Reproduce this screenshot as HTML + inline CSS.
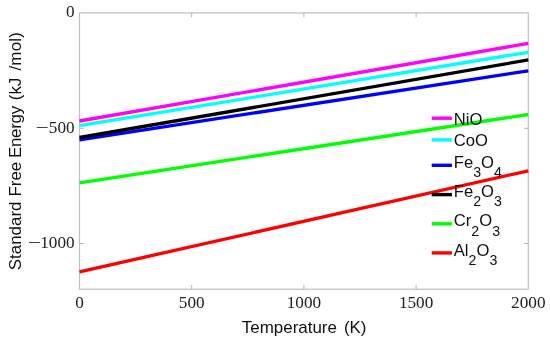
<!DOCTYPE html>
<html>
<head>
<meta charset="utf-8">
<title>Standard Free Energy vs Temperature</title>
<style>
html,body{margin:0;padding:0;background:#fff;}
svg{display:block;}
.sans{font-family:"Liberation Sans",Arial,Helvetica,sans-serif;fill:#111;}
.serif{font-family:"Liberation Serif","Times New Roman",serif;fill:#222;}
</style>
</head>
<body>
<svg width="550" height="341" viewBox="0 0 550 341">
<rect x="0" y="0" width="550" height="341" fill="#ffffff"/>
<!-- axes box -->
<rect x="79.5" y="12.9" width="448.8" height="276.3" fill="none" stroke="#c0c0c0" stroke-width="1.2"/>
<!-- ticks -->
<g stroke="#b4b4b4" stroke-width="1" fill="none">
<path d="M191.7 289.2v-4.3M303.9 289.2v-4.3M416.1 289.2v-4.3"/>
<path d="M191.7 12.9v4.3M303.9 12.9v4.3M416.1 12.9v4.3"/>
<path d="M79.5 128.3h4.3M79.5 243.5h4.3"/>
<path d="M528.3 128.3h-4.3M528.3 243.5h-4.3"/>
</g>
<!-- data lines -->
<g fill="none" stroke-width="3.3" stroke-linecap="butt">
<line x1="79.5" y1="121.0" x2="528.3" y2="43.3" stroke="#ff00ff"/>
<line x1="79.5" y1="125.7" x2="528.3" y2="52.3" stroke="#00ffff"/>
<line x1="79.5" y1="139.8" x2="528.3" y2="70.8" stroke="#0000ff"/>
<line x1="79.5" y1="137.5" x2="528.3" y2="59.9" stroke="#000000"/>
<line x1="79.5" y1="182.8" x2="528.3" y2="114.5" stroke="#00ff00"/>
<line x1="79.5" y1="271.8" x2="528.3" y2="170.8" stroke="#ff0000"/>
</g>
<!-- legend -->
<g fill="none" stroke-width="3.4">
<line x1="431.7" y1="118.2" x2="451.9" y2="118.2" stroke="#ff00ff"/>
<line x1="431.7" y1="139.9" x2="451.9" y2="139.9" stroke="#00ffff"/>
<line x1="431.7" y1="165.3" x2="451.9" y2="165.3" stroke="#0000ff"/>
<line x1="431.7" y1="194.6" x2="451.9" y2="194.6" stroke="#000000"/>
<line x1="431.7" y1="223.8" x2="451.9" y2="223.8" stroke="#00ff00"/>
<line x1="431.7" y1="252.9" x2="451.9" y2="252.9" stroke="#ff0000"/>
</g>
<g class="sans" font-size="16.6">
<text x="453.8" y="124.7">NiO</text>
<text x="453.8" y="146.4">CoO</text>
<text x="453.8" y="167.9">Fe<tspan font-size="14.2" dy="9.1">3</tspan><tspan dy="-9.1">O</tspan><tspan font-size="14.2" dy="9.1">4</tspan></text>
<text x="453.8" y="197.2">Fe<tspan font-size="14.2" dy="9.1">2</tspan><tspan dy="-9.1">O</tspan><tspan font-size="14.2" dy="9.1">3</tspan></text>
<text x="453.8" y="226.4">Cr<tspan font-size="14.2" dy="9.1">2</tspan><tspan dy="-9.1">O</tspan><tspan font-size="14.2" dy="9.1">3</tspan></text>
<text x="453.8" y="255.5">Al<tspan font-size="14.2" dy="9.1">2</tspan><tspan dy="-9.1">O</tspan><tspan font-size="14.2" dy="9.1">3</tspan></text>
</g>
<!-- tick labels -->
<g class="serif" font-size="17.2">
<text x="66.0" y="17.3">0</text>
<text y="132.6"><tspan x="35.4" textLength="13.2" lengthAdjust="spacingAndGlyphs">−</tspan><tspan x="48.8 57.4 66.0">500</tspan></text>
<text y="247.8"><tspan x="27.7" textLength="13.2" lengthAdjust="spacingAndGlyphs">−</tspan><tspan x="40.2 48.8 57.4 66.0">1000</tspan></text>
<text x="75.2" y="308.0">0</text>
<text x="178.8 187.4 196.0" y="308.0">500</text>
<text x="286.7 295.3 303.9 312.5" y="308.0">1000</text>
<text x="398.9 407.5 416.1 424.7" y="308.0">1500</text>
<text x="511.1 519.7 528.3 536.9" y="308.0">2000</text>
</g>
<!-- axis labels -->
<text class="sans" font-size="16.95" x="304.15" y="333.1" text-anchor="middle" word-spacing="2.3">Temperature (K)</text>
<text class="sans" font-size="16.95" transform="translate(21.2 0) rotate(-90)"><tspan x="-270.3">Standard </tspan><tspan x="-196.6">Free </tspan><tspan x="-158.0" letter-spacing="-0.3">Energy </tspan><tspan x="-100.25">(kJ </tspan><tspan x="-70.6" letter-spacing="0.22">/mol)</tspan></text>
</svg>
</body>
</html>
